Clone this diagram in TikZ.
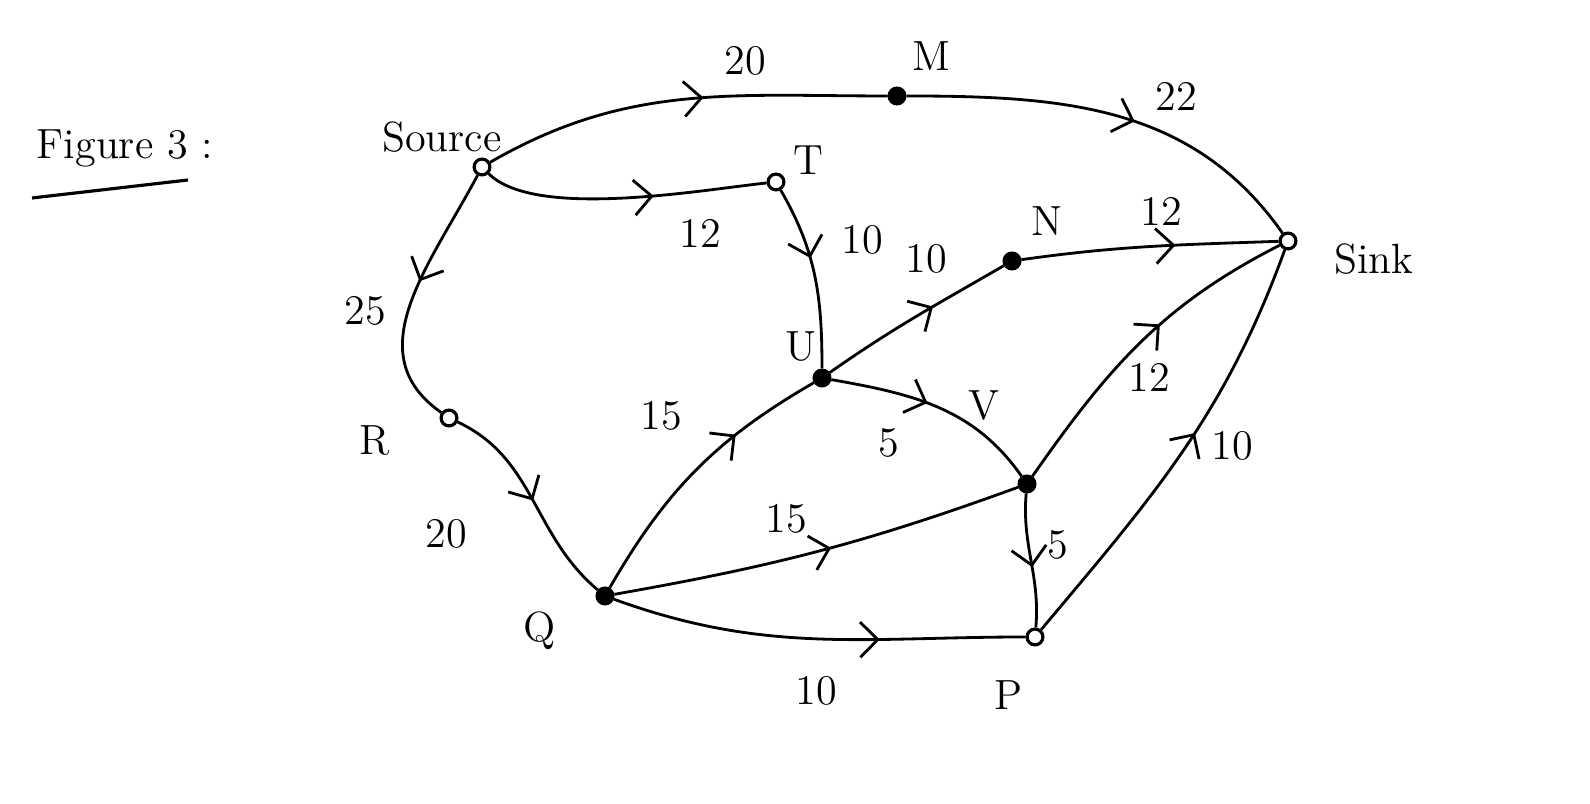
\documentclass[tikz,border=0pt]{standalone}
\usepackage{tikz}
\usetikzlibrary{arrows.meta,decorations.markings}

\tikzset{
  vtx/.style={circle,draw,line width=0.9pt,inner sep=0pt,minimum size=4.5pt},
  vfull/.style={vtx,fill=black},
  vopen/.style={vtx,fill=white},
  lbl/.style={font=\large},
  flow/.style={line width=0.8pt,postaction={decorate},
    decoration={markings,mark=at position #1 with {\arrow{Straight Barb[length=5pt,width=10pt,line width=0.8pt]}}}},
  flow/.default=0.5
}

\begin{document}
\begin{tikzpicture}[x=0.01cm,y=0.01cm]
\useasboundingbox (0,0) rectangle (1590,804);
% title
\node[font=\large] (fig) at (125,656) {Figure 3 :};
\coordinate (ul1) at (32,606); \coordinate (ul2) at (188,624);
\draw[line width=0.9pt] (ul1) -- (ul2);
% vertices
\node[vopen] (source) at (482,637) {};
\node[vfull] (m) at (897,708) {};
\node[vopen] (t) at (776,622) {};
\node[vfull] (n) at (1012,543) {};
\node[vopen] (sink) at (1288,563) {};
\node[vfull] (u) at (822,426) {};
\node[vopen] (r) at (449,386) {};
\node[vfull] (v) at (1027,320) {};
\node[vfull] (q) at (605,208) {};
\node[vopen] (p) at (1035,167) {};
% vertex names
\node[lbl] (source-l) at (442,667) {Source};
\node[lbl] (m-l) at (931,748) {M};
\node[lbl] (t-l) at (808,644) {T};
\node[lbl] (n-l) at (1047,583) {N};
\node[lbl] (sink-l) at (1374,545) {Sink};
\node[lbl] (u-l) at (801,457) {U};
\node[lbl] (r-l) at (375,363) {R};
\node[lbl] (v-l) at (984,398) {V};
\node[lbl] (q-l) at (540,173) {Q};
\node[lbl] (p-l) at (1009,109) {P};
% arcs
\draw[flow=0.55] (source) to[out=30,in=180] (m);
\draw[flow=0.55] (m) to[out=0,in=125] (sink);
\draw[flow=0.6] (source) to[out=-45,in=186,looseness=0.6] (t);
\draw[flow=0.4] (t) to[out=-60,in=90] (u);
\draw[flow=0.45] (source) to[out=-118,in=145,looseness=1.1] (r);
\draw[flow=0.5] (r) to[out=-25,in=140] (q);
\draw[flow=0.68] (q) to[out=60,in=210] (u);
\draw[flow=0.6] (u) to[out=35,in=210] (n);
\draw[flow=0.6] (n) to[out=8,in=182] (sink);
\draw[flow=0.45] (u) to[out=-10,in=125] (v);
\draw[flow=0.53] (q) to[out=10,in=200] (v);
\draw[flow=0.58] (v) to[out=55,in=207] (sink);
\draw[flow=0.55] (v) to[out=-95,in=85] (p);
\draw[flow=0.65] (q) to[out=-20,in=180] (p);
\draw[flow=0.55] (p) to[out=50,in=-110] (sink);
% capacities
\node[lbl] (c-sm) at (745,743) {20};
\node[lbl] (c-ms) at (1176,708) {22};
\node[lbl] (c-st) at (700,571) {12};
\node[lbl] (c-tu) at (862,564) {10};
\node[lbl] (c-sr) at (365,493) {25};
\node[lbl] (c-rq) at (446,270) {20};
\node[lbl] (c-qu) at (661,388) {15};
\node[lbl] (c-un) at (926,545) {10};
\node[lbl] (c-ns) at (1161,593) {12};
\node[lbl] (c-uv) at (889,361) {5};
\node[lbl] (c-qv) at (786,285) {15};
\node[lbl] (c-vs) at (1149,427) {12};
\node[lbl] (c-ps) at (1232,358) {10};
\node[lbl] (c-vp) at (1058,259) {5};
\node[lbl] (c-qp) at (816,113) {10};
\end{tikzpicture}
\end{document}
